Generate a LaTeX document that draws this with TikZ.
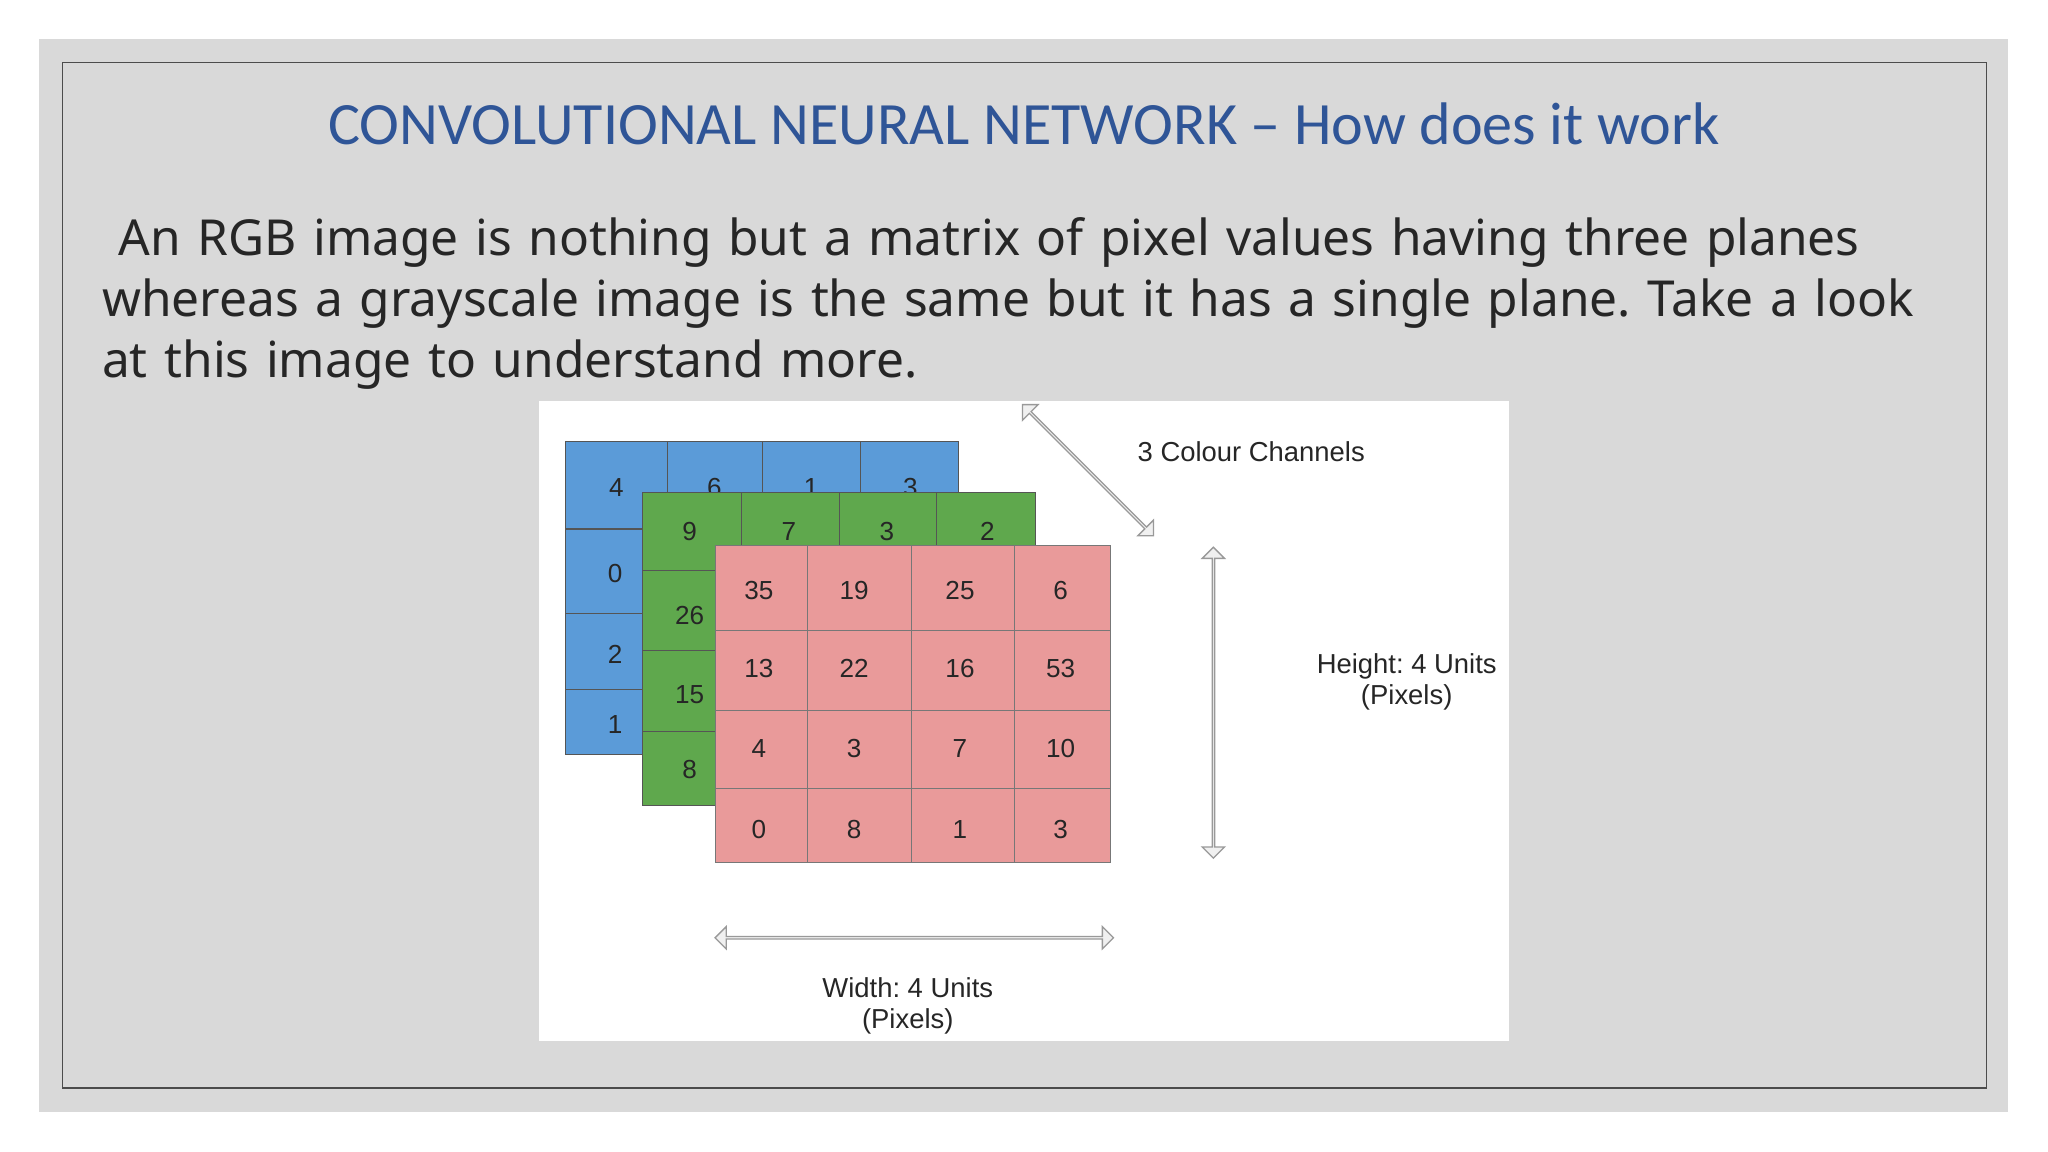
\documentclass[tikz,border=0pt]{standalone}
\usepackage{fontspec}
\setmainfont{Noto Sans}
\newfontfamily\titlefont{Carlito}
\newfontfamily\lblfont{Liberation Sans}
\usetikzlibrary{shapes.arrows}
\definecolor{bgray}{HTML}{D9D9D9}
\definecolor{ttl}{HTML}{2F5597}
\definecolor{txt}{HTML}{262626}
\definecolor{cblue}{HTML}{5B9BD8}
\definecolor{cgreen}{HTML}{5FA84D}
\definecolor{cred}{HTML}{E99A9A}
\definecolor{gline}{HTML}{555555}
\tikzset{
 cellnum/.style={font=\lblfont\fontsize{20}{20}\selectfont, text=black!85, inner sep=0},
 lbl/.style={font=\lblfont\fontsize{21}{24}\selectfont, text=black!85, align=center, inner sep=0},
 darrow/.style={draw=black!40, fill=black!6, shape=double arrow, double arrow head extend=4pt, minimum width=17pt, inner sep=0, line width=1pt},
}
\frenchspacing
\begin{document}
\begin{tikzpicture}[x=1pt,y=-1pt]
\useasboundingbox[fill=white] (0,0) rectangle (1568,882);
\fill[bgray] (30,30) rectangle (1537,851);
\draw[black!70, line width=1pt] (48,48) rectangle (1521,833);
\node[font=\titlefont\fontsize{46}{46}\selectfont, text=ttl] (title) at (784,95) {CONVOLUTIONAL NEURAL NETWORK – How does it work};
\node[font=\fontsize{38}{47}\selectfont, text=txt, align=left, anchor=north west, inner sep=0, text width=1440pt] (body) at (78,166)
 {\ An RGB image is nothing but a matrix of pixel values having three planes\\whereas a grayscale image is the same but it has a single plane. Take a look\\at this image to understand more.};
\fill[white] (413,307) rectangle (1155,797);
% blue
\fill[cblue] (433,338) rectangle (734,578);
\foreach \x in {511,584,659} \draw[gline,line width=0.8pt] (\x,338) -- (\x,578);
\foreach \y in {405,470,528} \draw[gline,line width=0.8pt] (433,\y) -- (734,\y);
\draw[gline,line width=0.8pt] (433,338) rectangle (734,578);
\foreach \x/\v in {472/4,547/6,621/1,697/3} \node[cellnum] at (\x,373) {\v};
\foreach \y/\v in {439/0,501/2,555/1} \node[cellnum] at (471,\y) {\v};
% green
\fill[cgreen] (492,377) rectangle (793,617);
\foreach \x in {568,643,717} \draw[gline,line width=0.8pt] (\x,377) -- (\x,617);
\foreach \y in {437,498,560} \draw[gline,line width=0.8pt] (492,\y) -- (793,\y);
\draw[gline,line width=0.8pt] (492,377) rectangle (793,617);
\foreach \x/\v in {528/9,604/7,679/3,756/2} \node[cellnum] at (\x,407) {\v};
\foreach \y/\v in {471/26,532/15,589/8} \node[cellnum] at (528,\y) {\v};
% red
\fill[cred] (548,418) rectangle (850,660);
\foreach \x in {618,698,777} \draw[gline!80,line width=0.8pt] (\x,418) -- (\x,660);
\foreach \y in {483,544,604} \draw[gline!80,line width=0.8pt] (548,\y) -- (850,\y);
\draw[gline!80,line width=0.8pt] (548,418) rectangle (850,660);
\foreach \r/\y/\a/\b/\c/\d in {1/452/35/19/25/6, 2/512/13/22/16/53, 3/573/4/3/7/10, 4/635/0/8/1/3}
 { \node[cellnum] at (581,\y) {\a}; \node[cellnum] at (654,\y) {\b}; \node[cellnum] at (735,\y) {\c}; \node[cellnum] at (812,\y) {\d}; }
% arrows
\node[darrow, minimum height=142pt, rotate=-45] (a1) at (833,360) {};
\node[darrow, minimum height=238pt, rotate=90] (a2) at (929,538) {};
\node[darrow, minimum height=305pt] (a3) at (700,718) {};
\node[lbl] (l1) at (958,346) {3 Colour Channels};
\node[lbl] (l2) at (1077,522) {Height: 4 Units\\(Pixels)};
\node[lbl] (l3) at (695,770) {Width: 4 Units\\(Pixels)};
\end{tikzpicture}
\end{document}
